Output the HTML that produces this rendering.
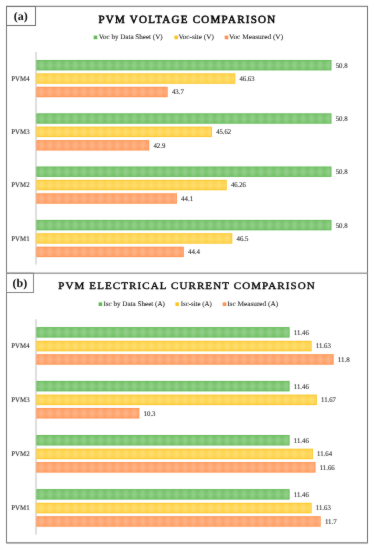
<!DOCTYPE html><html><head><meta charset="utf-8"><style>html,body{margin:0;padding:0;background:#fff;width:374px;height:550px;overflow:hidden}svg{display:block;text-rendering:geometricPrecision}</style></head><body><svg width="374" height="550" viewBox="0 0 374 550">
<defs>
<linearGradient id="g_green" x1="0" y1="0" x2="0" y2="1"><stop offset="0" stop-color="#72c066"/><stop offset="0.5" stop-color="#80c775"/><stop offset="1" stop-color="#72c066"/></linearGradient>
<linearGradient id="g_yellow" x1="0" y1="0" x2="0" y2="1"><stop offset="0" stop-color="#ffd045"/><stop offset="0.5" stop-color="#ffd858"/><stop offset="1" stop-color="#ffd045"/></linearGradient>
<linearGradient id="g_orange" x1="0" y1="0" x2="0" y2="1"><stop offset="0" stop-color="#ff9d62"/><stop offset="0.5" stop-color="#ffa773"/><stop offset="1" stop-color="#ff9d62"/></linearGradient>
<linearGradient id="stripe" x1="0" y1="0" x2="1" y2="0" spreadMethod="repeat"><stop offset="0" stop-color="#fff" stop-opacity="0"/><stop offset="0.5" stop-color="#fff" stop-opacity="0.16"/><stop offset="1" stop-color="#fff" stop-opacity="0"/></linearGradient>
<pattern id="stp" x="37.3" y="0" width="8.44" height="10" patternUnits="userSpaceOnUse"><rect width="8.44" height="10" fill="url(#stripe)"/></pattern>
<filter id="soft" x="0" y="0" width="374" height="550" filterUnits="userSpaceOnUse" color-interpolation-filters="sRGB"><feConvolveMatrix order="3" kernelMatrix="1 2 1 2 36 2 1 2 1" edgeMode="duplicate" preserveAlpha="true"/></filter>
</defs>
<g filter="url(#soft)">
<rect width="374" height="550" fill="#fff"/>
<text x="98.4" y="22.6" font-family="'Liberation Serif', 'Times New Roman', serif" font-weight="normal" font-size="11" letter-spacing="0.4" textLength="177.2" lengthAdjust="spacing" fill="#000" stroke="#000" stroke-width="0.5">PVM VOLTAGE COMPARISON</text>
<rect x="93.7" y="35.6" width="3.6" height="3.6" fill="#62b955"/>
<text x="98.8" y="39.1" font-family="'Liberation Serif', 'Times New Roman', serif" font-size="7" textLength="63.8" lengthAdjust="spacingAndGlyphs" fill="#1e1e1e" stroke="#1e1e1e" stroke-width="0.08">Voc by Data Sheet (V)</text>
<rect x="174.4" y="35.6" width="3.6" height="3.6" fill="#fbc421"/>
<text x="178.4" y="39.1" font-family="'Liberation Serif', 'Times New Roman', serif" font-size="7" textLength="35.4" lengthAdjust="spacingAndGlyphs" fill="#1e1e1e" stroke="#1e1e1e" stroke-width="0.08">Voc-site (V)</text>
<rect x="224.7" y="35.6" width="3.6" height="3.6" fill="#ff904c"/>
<text x="229.1" y="39.1" font-family="'Liberation Serif', 'Times New Roman', serif" font-size="7" textLength="54.0" lengthAdjust="spacingAndGlyphs" fill="#1e1e1e" stroke="#1e1e1e" stroke-width="0.08">Voc Measured (V)</text>
<rect x="35.5" y="52" width="1" height="212.5" fill="#bdbdbd"/>
<rect x="36.5" y="60.00" width="294.99" height="10.4" fill="#62b955"/>
<rect x="36.5" y="60.80" width="294.19" height="8.80" fill="url(#g_green)"/>
<rect x="36.5" y="60.80" width="294.19" height="8.80" fill="url(#stp)"/>
<text x="335.69" y="67.60" font-family="'Liberation Serif', 'Times New Roman', serif" font-size="7.2" textLength="12.0" lengthAdjust="spacingAndGlyphs" fill="#1e1e1e" stroke="#1e1e1e" stroke-width="0.08">50.8</text>
<rect x="36.5" y="73.35" width="198.78" height="10.4" fill="#fbc421"/>
<rect x="36.5" y="74.15" width="197.98" height="8.80" fill="url(#g_yellow)"/>
<rect x="36.5" y="74.15" width="197.98" height="8.80" fill="url(#stp)"/>
<text x="239.48" y="80.95" font-family="'Liberation Serif', 'Times New Roman', serif" font-size="7.2" textLength="15.0" lengthAdjust="spacingAndGlyphs" fill="#1e1e1e" stroke="#1e1e1e" stroke-width="0.08">46.63</text>
<rect x="36.5" y="86.80" width="131.18" height="10.4" fill="#ff904c"/>
<rect x="36.5" y="87.60" width="130.38" height="8.80" fill="url(#g_orange)"/>
<rect x="36.5" y="87.60" width="130.38" height="8.80" fill="url(#stp)"/>
<text x="171.88" y="94.40" font-family="'Liberation Serif', 'Times New Roman', serif" font-size="7.2" textLength="12.0" lengthAdjust="spacingAndGlyphs" fill="#1e1e1e" stroke="#1e1e1e" stroke-width="0.08">43.7</text>
<text x="11.3" y="80.70" font-family="'Liberation Serif', 'Times New Roman', serif" font-size="7.2" textLength="18.3" lengthAdjust="spacingAndGlyphs" fill="#1e1e1e" stroke="#1e1e1e" stroke-width="0.08">PVM4</text>
<rect x="36.5" y="113.30" width="294.99" height="10.4" fill="#62b955"/>
<rect x="36.5" y="114.10" width="294.19" height="8.80" fill="url(#g_green)"/>
<rect x="36.5" y="114.10" width="294.19" height="8.80" fill="url(#stp)"/>
<text x="335.69" y="120.90" font-family="'Liberation Serif', 'Times New Roman', serif" font-size="7.2" textLength="12.0" lengthAdjust="spacingAndGlyphs" fill="#1e1e1e" stroke="#1e1e1e" stroke-width="0.08">50.8</text>
<rect x="36.5" y="126.65" width="175.48" height="10.4" fill="#fbc421"/>
<rect x="36.5" y="127.45" width="174.68" height="8.80" fill="url(#g_yellow)"/>
<rect x="36.5" y="127.45" width="174.68" height="8.80" fill="url(#stp)"/>
<text x="216.18" y="134.25" font-family="'Liberation Serif', 'Times New Roman', serif" font-size="7.2" textLength="15.0" lengthAdjust="spacingAndGlyphs" fill="#1e1e1e" stroke="#1e1e1e" stroke-width="0.08">45.62</text>
<rect x="36.5" y="140.10" width="112.72" height="10.4" fill="#ff904c"/>
<rect x="36.5" y="140.90" width="111.92" height="8.80" fill="url(#g_orange)"/>
<rect x="36.5" y="140.90" width="111.92" height="8.80" fill="url(#stp)"/>
<text x="153.42" y="147.70" font-family="'Liberation Serif', 'Times New Roman', serif" font-size="7.2" textLength="12.0" lengthAdjust="spacingAndGlyphs" fill="#1e1e1e" stroke="#1e1e1e" stroke-width="0.08">42.9</text>
<text x="11.3" y="134.00" font-family="'Liberation Serif', 'Times New Roman', serif" font-size="7.2" textLength="18.3" lengthAdjust="spacingAndGlyphs" fill="#1e1e1e" stroke="#1e1e1e" stroke-width="0.08">PVM3</text>
<rect x="36.5" y="166.50" width="294.99" height="10.4" fill="#62b955"/>
<rect x="36.5" y="167.30" width="294.19" height="8.80" fill="url(#g_green)"/>
<rect x="36.5" y="167.30" width="294.19" height="8.80" fill="url(#stp)"/>
<text x="335.69" y="174.10" font-family="'Liberation Serif', 'Times New Roman', serif" font-size="7.2" textLength="12.0" lengthAdjust="spacingAndGlyphs" fill="#1e1e1e" stroke="#1e1e1e" stroke-width="0.08">50.8</text>
<rect x="36.5" y="179.85" width="190.24" height="10.4" fill="#fbc421"/>
<rect x="36.5" y="180.65" width="189.44" height="8.80" fill="url(#g_yellow)"/>
<rect x="36.5" y="180.65" width="189.44" height="8.80" fill="url(#stp)"/>
<text x="230.94" y="187.45" font-family="'Liberation Serif', 'Times New Roman', serif" font-size="7.2" textLength="15.0" lengthAdjust="spacingAndGlyphs" fill="#1e1e1e" stroke="#1e1e1e" stroke-width="0.08">46.26</text>
<rect x="36.5" y="193.30" width="140.41" height="10.4" fill="#ff904c"/>
<rect x="36.5" y="194.10" width="139.61" height="8.80" fill="url(#g_orange)"/>
<rect x="36.5" y="194.10" width="139.61" height="8.80" fill="url(#stp)"/>
<text x="181.11" y="200.90" font-family="'Liberation Serif', 'Times New Roman', serif" font-size="7.2" textLength="12.0" lengthAdjust="spacingAndGlyphs" fill="#1e1e1e" stroke="#1e1e1e" stroke-width="0.08">44.1</text>
<text x="11.3" y="187.20" font-family="'Liberation Serif', 'Times New Roman', serif" font-size="7.2" textLength="18.3" lengthAdjust="spacingAndGlyphs" fill="#1e1e1e" stroke="#1e1e1e" stroke-width="0.08">PVM2</text>
<rect x="36.5" y="219.90" width="294.99" height="10.4" fill="#62b955"/>
<rect x="36.5" y="220.70" width="294.19" height="8.80" fill="url(#g_green)"/>
<rect x="36.5" y="220.70" width="294.19" height="8.80" fill="url(#stp)"/>
<text x="335.69" y="227.50" font-family="'Liberation Serif', 'Times New Roman', serif" font-size="7.2" textLength="12.0" lengthAdjust="spacingAndGlyphs" fill="#1e1e1e" stroke="#1e1e1e" stroke-width="0.08">50.8</text>
<rect x="36.5" y="233.25" width="195.78" height="10.4" fill="#fbc421"/>
<rect x="36.5" y="234.05" width="194.98" height="8.80" fill="url(#g_yellow)"/>
<rect x="36.5" y="234.05" width="194.98" height="8.80" fill="url(#stp)"/>
<text x="236.48" y="240.85" font-family="'Liberation Serif', 'Times New Roman', serif" font-size="7.2" textLength="12.0" lengthAdjust="spacingAndGlyphs" fill="#1e1e1e" stroke="#1e1e1e" stroke-width="0.08">46.5</text>
<rect x="36.5" y="246.70" width="147.33" height="10.4" fill="#ff904c"/>
<rect x="36.5" y="247.50" width="146.53" height="8.80" fill="url(#g_orange)"/>
<rect x="36.5" y="247.50" width="146.53" height="8.80" fill="url(#stp)"/>
<text x="188.03" y="254.30" font-family="'Liberation Serif', 'Times New Roman', serif" font-size="7.2" textLength="12.0" lengthAdjust="spacingAndGlyphs" fill="#1e1e1e" stroke="#1e1e1e" stroke-width="0.08">44.4</text>
<text x="11.3" y="240.60" font-family="'Liberation Serif', 'Times New Roman', serif" font-size="7.2" textLength="18.3" lengthAdjust="spacingAndGlyphs" fill="#1e1e1e" stroke="#1e1e1e" stroke-width="0.08">PVM1</text>
<text x="58.3" y="288.9" font-family="'Liberation Serif', 'Times New Roman', serif" font-weight="normal" font-size="10" letter-spacing="1.0" textLength="257.6" lengthAdjust="spacingAndGlyphs" fill="#000" stroke="#000" stroke-width="0.35">PVM ELECTRICAL CURRENT COMPARISON</text>
<rect x="98.6" y="302.4" width="3.6" height="3.6" fill="#62b955"/>
<text x="103.4" y="306.2" font-family="'Liberation Serif', 'Times New Roman', serif" font-size="7" textLength="61.6" lengthAdjust="spacingAndGlyphs" fill="#1e1e1e" stroke="#1e1e1e" stroke-width="0.08">Isc by Data Sheet (A)</text>
<rect x="175.4" y="302.4" width="3.6" height="3.6" fill="#fbc421"/>
<text x="180.7" y="306.2" font-family="'Liberation Serif', 'Times New Roman', serif" font-size="7" textLength="31.2" lengthAdjust="spacingAndGlyphs" fill="#1e1e1e" stroke="#1e1e1e" stroke-width="0.08">Isc-site (A)</text>
<rect x="222.7" y="302.4" width="3.6" height="3.6" fill="#ff904c"/>
<text x="227.2" y="306.2" font-family="'Liberation Serif', 'Times New Roman', serif" font-size="7" textLength="51.0" lengthAdjust="spacingAndGlyphs" fill="#1e1e1e" stroke="#1e1e1e" stroke-width="0.08">Isc Measured (A)</text>
<rect x="35.5" y="319.3" width="1" height="215.2" fill="#bdbdbd"/>
<rect x="36.5" y="327.10" width="253.11" height="10.5" fill="#62b955"/>
<rect x="36.5" y="327.90" width="252.31" height="8.90" fill="url(#g_green)"/>
<rect x="36.5" y="327.90" width="252.31" height="8.90" fill="url(#stp)"/>
<text x="293.81" y="334.75" font-family="'Liberation Serif', 'Times New Roman', serif" font-size="7.2" textLength="15.0" lengthAdjust="spacingAndGlyphs" fill="#1e1e1e" stroke="#1e1e1e" stroke-width="0.08">11.46</text>
<rect x="36.5" y="340.80" width="275.13" height="10.5" fill="#fbc421"/>
<rect x="36.5" y="341.60" width="274.33" height="8.90" fill="url(#g_yellow)"/>
<rect x="36.5" y="341.60" width="274.33" height="8.90" fill="url(#stp)"/>
<text x="315.83" y="348.45" font-family="'Liberation Serif', 'Times New Roman', serif" font-size="7.2" textLength="15.0" lengthAdjust="spacingAndGlyphs" fill="#1e1e1e" stroke="#1e1e1e" stroke-width="0.08">11.63</text>
<rect x="36.5" y="354.20" width="297.15" height="10.5" fill="#ff904c"/>
<rect x="36.5" y="355.00" width="296.35" height="8.90" fill="url(#g_orange)"/>
<rect x="36.5" y="355.00" width="296.35" height="8.90" fill="url(#stp)"/>
<text x="337.85" y="361.85" font-family="'Liberation Serif', 'Times New Roman', serif" font-size="7.2" textLength="12.0" lengthAdjust="spacingAndGlyphs" fill="#1e1e1e" stroke="#1e1e1e" stroke-width="0.08">11.8</text>
<text x="11.3" y="348.00" font-family="'Liberation Serif', 'Times New Roman', serif" font-size="7.2" textLength="18.3" lengthAdjust="spacingAndGlyphs" fill="#1e1e1e" stroke="#1e1e1e" stroke-width="0.08">PVM4</text>
<rect x="36.5" y="380.90" width="253.11" height="10.5" fill="#62b955"/>
<rect x="36.5" y="381.70" width="252.31" height="8.90" fill="url(#g_green)"/>
<rect x="36.5" y="381.70" width="252.31" height="8.90" fill="url(#stp)"/>
<text x="293.81" y="388.55" font-family="'Liberation Serif', 'Times New Roman', serif" font-size="7.2" textLength="15.0" lengthAdjust="spacingAndGlyphs" fill="#1e1e1e" stroke="#1e1e1e" stroke-width="0.08">11.46</text>
<rect x="36.5" y="394.60" width="280.31" height="10.5" fill="#fbc421"/>
<rect x="36.5" y="395.40" width="279.51" height="8.90" fill="url(#g_yellow)"/>
<rect x="36.5" y="395.40" width="279.51" height="8.90" fill="url(#stp)"/>
<text x="321.01" y="402.25" font-family="'Liberation Serif', 'Times New Roman', serif" font-size="7.2" textLength="15.0" lengthAdjust="spacingAndGlyphs" fill="#1e1e1e" stroke="#1e1e1e" stroke-width="0.08">11.67</text>
<rect x="36.5" y="408.00" width="102.86" height="10.5" fill="#ff904c"/>
<rect x="36.5" y="408.80" width="102.06" height="8.90" fill="url(#g_orange)"/>
<rect x="36.5" y="408.80" width="102.06" height="8.90" fill="url(#stp)"/>
<text x="143.56" y="415.65" font-family="'Liberation Serif', 'Times New Roman', serif" font-size="7.2" textLength="12.0" lengthAdjust="spacingAndGlyphs" fill="#1e1e1e" stroke="#1e1e1e" stroke-width="0.08">10.3</text>
<text x="11.3" y="401.80" font-family="'Liberation Serif', 'Times New Roman', serif" font-size="7.2" textLength="18.3" lengthAdjust="spacingAndGlyphs" fill="#1e1e1e" stroke="#1e1e1e" stroke-width="0.08">PVM3</text>
<rect x="36.5" y="435.00" width="253.11" height="10.5" fill="#62b955"/>
<rect x="36.5" y="435.80" width="252.31" height="8.90" fill="url(#g_green)"/>
<rect x="36.5" y="435.80" width="252.31" height="8.90" fill="url(#stp)"/>
<text x="293.81" y="442.65" font-family="'Liberation Serif', 'Times New Roman', serif" font-size="7.2" textLength="15.0" lengthAdjust="spacingAndGlyphs" fill="#1e1e1e" stroke="#1e1e1e" stroke-width="0.08">11.46</text>
<rect x="36.5" y="448.70" width="276.42" height="10.5" fill="#fbc421"/>
<rect x="36.5" y="449.50" width="275.62" height="8.90" fill="url(#g_yellow)"/>
<rect x="36.5" y="449.50" width="275.62" height="8.90" fill="url(#stp)"/>
<text x="317.12" y="456.35" font-family="'Liberation Serif', 'Times New Roman', serif" font-size="7.2" textLength="15.0" lengthAdjust="spacingAndGlyphs" fill="#1e1e1e" stroke="#1e1e1e" stroke-width="0.08">11.64</text>
<rect x="36.5" y="462.10" width="279.01" height="10.5" fill="#ff904c"/>
<rect x="36.5" y="462.90" width="278.21" height="8.90" fill="url(#g_orange)"/>
<rect x="36.5" y="462.90" width="278.21" height="8.90" fill="url(#stp)"/>
<text x="319.71" y="469.75" font-family="'Liberation Serif', 'Times New Roman', serif" font-size="7.2" textLength="15.0" lengthAdjust="spacingAndGlyphs" fill="#1e1e1e" stroke="#1e1e1e" stroke-width="0.08">11.66</text>
<text x="11.3" y="455.90" font-family="'Liberation Serif', 'Times New Roman', serif" font-size="7.2" textLength="18.3" lengthAdjust="spacingAndGlyphs" fill="#1e1e1e" stroke="#1e1e1e" stroke-width="0.08">PVM2</text>
<rect x="36.5" y="489.10" width="253.11" height="10.5" fill="#62b955"/>
<rect x="36.5" y="489.90" width="252.31" height="8.90" fill="url(#g_green)"/>
<rect x="36.5" y="489.90" width="252.31" height="8.90" fill="url(#stp)"/>
<text x="293.81" y="496.75" font-family="'Liberation Serif', 'Times New Roman', serif" font-size="7.2" textLength="15.0" lengthAdjust="spacingAndGlyphs" fill="#1e1e1e" stroke="#1e1e1e" stroke-width="0.08">11.46</text>
<rect x="36.5" y="502.80" width="275.13" height="10.5" fill="#fbc421"/>
<rect x="36.5" y="503.60" width="274.33" height="8.90" fill="url(#g_yellow)"/>
<rect x="36.5" y="503.60" width="274.33" height="8.90" fill="url(#stp)"/>
<text x="315.83" y="510.45" font-family="'Liberation Serif', 'Times New Roman', serif" font-size="7.2" textLength="15.0" lengthAdjust="spacingAndGlyphs" fill="#1e1e1e" stroke="#1e1e1e" stroke-width="0.08">11.63</text>
<rect x="36.5" y="516.20" width="284.19" height="10.5" fill="#ff904c"/>
<rect x="36.5" y="517.00" width="283.39" height="8.90" fill="url(#g_orange)"/>
<rect x="36.5" y="517.00" width="283.39" height="8.90" fill="url(#stp)"/>
<text x="324.89" y="523.85" font-family="'Liberation Serif', 'Times New Roman', serif" font-size="7.2" textLength="12.0" lengthAdjust="spacingAndGlyphs" fill="#1e1e1e" stroke="#1e1e1e" stroke-width="0.08">11.7</text>
<text x="11.3" y="510.00" font-family="'Liberation Serif', 'Times New Roman', serif" font-size="7.2" textLength="18.3" lengthAdjust="spacingAndGlyphs" fill="#1e1e1e" stroke="#1e1e1e" stroke-width="0.08">PVM1</text>
<rect x="6" y="5.8" width="362" height="1" fill="#6e6e6e"/>
<rect x="6" y="6" width="1" height="537" fill="#7a7a7a"/>
<rect x="367" y="6" width="1" height="537" fill="#6e6e6e"/>
<rect x="6" y="542.1" width="362" height="1.5" fill="#8c8c8c"/>
<rect x="6" y="272.6" width="362" height="1.2" fill="#8a8a8a"/>
<rect x="6.5" y="6.5" width="29" height="19" fill="none" stroke="#6e6e6e" stroke-width="1"/>
<rect x="6.5" y="273.2" width="27" height="19.3" fill="none" stroke="#858585" stroke-width="1"/>
<text x="20.8" y="20.4" text-anchor="middle" font-family="'Liberation Serif', 'Times New Roman', serif" font-weight="bold" font-size="12" fill="#111">(a)</text>
<text x="19.9" y="286.7" text-anchor="middle" font-family="'Liberation Serif', 'Times New Roman', serif" font-weight="bold" font-size="12" fill="#111">(b)</text>
</g>
</svg></body></html>
